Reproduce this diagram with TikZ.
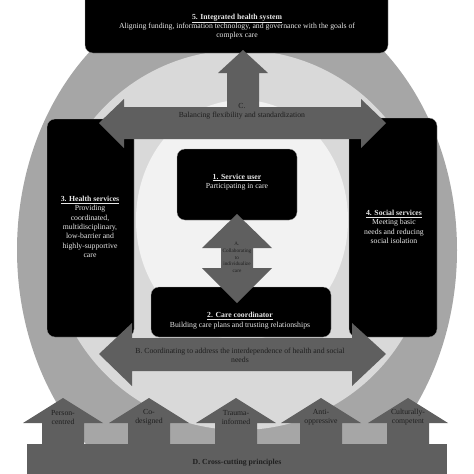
\documentclass[tikz,border=0pt]{standalone}
\usepackage{fontspec}
\setmainfont{Liberation Serif}
\usepackage{tikz}

\definecolor{ringgrey}{HTML}{A6A6A6}
\definecolor{midgrey}{HTML}{D9D9D9}
\definecolor{coregrey}{HTML}{F2F2F2}
\definecolor{arrowgrey}{HTML}{5F5F5F}
\definecolor{boxtext}{HTML}{E8E8E8}

\begin{document}
\begin{tikzpicture}[x=0.05cm, y=-0.05cm,
    darkbox/.style={fill=black, draw=gray!70, line width=0.4pt, rounded corners=0.4cm},
    boxlabel/.style={text=boxtext, align=center, inner sep=0pt, font=\fontsize{11}{13.3}\selectfont},
    arrowlabel/.style={text=black!88, align=center, inner sep=0pt, font=\fontsize{11}{13}\selectfont},
    smalllabel/.style={text=black!88, align=center, inner sep=0pt, font=\fontsize{7.4}{9.6}\selectfont},
    blockarrow/.style={fill=arrowgrey}]
  \clip (0,0) rectangle (474,474);
  % Rings
  \fill[ringgrey] (237,250) ellipse (220 and 267);
  \fill[midgrey] (240,240) circle (190);
  \fill[coregrey] (242,220) ellipse (106 and 120);
  % Boxes
  \draw[darkbox] (85,-10) rectangle (388,53);
  \draw[darkbox] (47,119) rectangle (134,337);
  \draw[darkbox] (349,118) rectangle (437,337);
  \draw[darkbox] (177,149) rectangle (297,220);
  \draw[darkbox] (151,287) rectangle (331,337);
  % C. arrow
  \fill[blockarrow] (99,123) -- (124,99) -- (124,107) -- (227,107) -- (227,73) -- (218,73)
    -- (243,50) -- (268,73) -- (259,73) -- (259,107) -- (361,107) -- (361,99) -- (386,123)
    -- (361,148) -- (361,139) -- (124,139) -- (124,148) -- cycle;
  % B. arrow
  \fill[blockarrow] (99,354) -- (132,323) -- (132,338) -- (352,338) -- (352,323) -- (386,354)
    -- (352,386) -- (352,371) -- (132,371) -- (132,386) -- cycle;
  % A. arrow
  \fill[blockarrow] (237,214) -- (272,248) -- (253,248) -- (253,268) -- (272,268) -- (237,303)
    -- (202,268) -- (221,268) -- (221,248) -- (202,248) -- cycle;
  % D. cross-cutting principles
  \fill[blockarrow] (27,444) rectangle (447,480);
  \foreach \c/\up/\down [count=\i] in {63/Person-/centred, 149/Co-/designed,
      236/Trauma-/informed, 321/Anti-/oppressive, 408/Culturally-/competent} {
    \fill[blockarrow] ({\c-40},423) -- (\c,398) -- ({\c+40},423) -- ({\c+21},423)
      -- ({\c+21},446) -- ({\c-21},446) -- ({\c-21},423) -- cycle;
    \node[arrowlabel] (cut\i) at (\c,417.5) {\up\\\down};
  }
  % Labels
  \node[boxlabel] (system) at (237,26.5) {\underline{\textbf{5. Integrated health system}}\\
    Aligning funding, information technology, and governance with the goals of\\complex care};
  \node[boxlabel] (health) at (90,227) {\underline{\textbf{3. Health services}}\\Providing\\
    coordinated,\\multidisciplinary,\\low-barrier and\\highly-supportive\\care};
  \node[boxlabel] (social) at (394,227) {\underline{\textbf{4. Social services}}\\Meeting basic\\
    needs and reducing\\social isolation};
  \node[boxlabel] (user) at (237,182) {\underline{\textbf{1. Service user}}\\Participating in care};
  \node[boxlabel] (coord) at (240,320.5) {\underline{\textbf{2. Care coordinator}}\\
    Building care plans and trusting relationships};
  \node[arrowlabel] (flex) at (242,111) {C.\\Balancing flexibility and standardization};
  \node[arrowlabel] (interdep) at (240,355.5) {B. Coordinating to address the interdependence of health and social\\needs};
  \node[smalllabel] (collab) at (237,257.5) {A.\\Collaborating\\to\\individualize\\care};
  \node[arrowlabel, font=\fontsize{11}{13}\selectfont\bfseries] (cross) at (237,463) {D. Cross-cutting principles};
\end{tikzpicture}
\end{document}
